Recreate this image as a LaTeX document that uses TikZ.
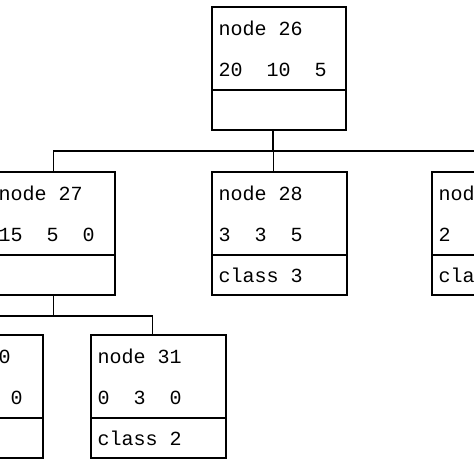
\documentclass[tikz,border=0pt]{standalone}
\usepackage{fontspec}
\newfontfamily\mono{Liberation Mono}
\usetikzlibrary{positioning}

\newcommand\colgap{\hspace*{0.6em}}

\tikzset{
  every node/.style={font=\mono\fontsize{11.4}{23.3}\selectfont, outer sep=0pt},
  upper/.style={draw, line width=1.1pt, anchor=north, align=left,
    inner xsep=0.13cm, inner ysep=0pt, minimum height=1.66cm, text width=#1},
  lower/.style={draw, line width=1.1pt, align=left,
    inner xsep=0.13cm, inner ysep=0pt, minimum height=0.8cm, text width=#1},
  link/.style={line width=1.1pt},
}

\begin{document}
\begin{tikzpicture}[x=0.02cm, y=-0.02cm]
    \useasboundingbox (0,0) rectangle (474,474);
    \clip (0,0) rectangle (474,474);
    \fill[white] (0,0) rectangle (474,474);

    % root
    \node[upper=2.42cm] (n26) at (279,7) {node\colgap 26\\20\colgap\colgap 10\colgap\colgap 5};
    \node[lower=2.42cm, below=0pt of n26] (n26c) {};

    % second level
    \node[upper=2.20cm] (n27) at (53.5,172) {node\colgap 27\\15\colgap\colgap 5\colgap\colgap 0};
    \node[lower=2.20cm, below=0pt of n27] (n27c) {};
    \node[upper=2.44cm] (n28) at (279.5,172) {node\colgap 28\\3\colgap\colgap 3\colgap\colgap 5};
    \node[lower=2.44cm, below=0pt of n28] (n28c) {class\colgap 3};
    \node[upper=2.42cm] (n29) at (499,172) {node\colgap 29\\2\colgap\colgap 2\colgap\colgap 0};
    \node[lower=2.42cm, below=0pt of n29] (n29c) {class\colgap 1};

    % third level
    \node[upper=2.20cm] (n30) at (-18.5,335) {node\colgap 30\\15\colgap\colgap 2\colgap\colgap 0};
    \node[lower=2.20cm, below=0pt of n30] (n30c) {};
    \node[upper=2.44cm] (n31) at (158.5,335) {node\colgap 31\\0\colgap\colgap 3\colgap\colgap 0};
    \node[lower=2.44cm, below=0pt of n31] (n31c) {class\colgap 2};

    % branches from node 26
    \draw[link] ([xshift=-0.12cm]n26c.south) -- ++(0,21) -| (n27.north);
    \draw[link] ([xshift=-0.12cm]n26c.south) -- ++(0,21) -| ([xshift=-0.12cm]n28.north);
    \draw[link] ([xshift=-0.12cm]n26c.south) -- ++(0,21) -| ([xshift=-0.12cm]n29.north);
    % branches from node 27
    \draw[link] (n27c.south) -- ++(0,21) -| ([xshift=-0.12cm]n30.north);
    \draw[link] (n27c.south) -- ++(0,21) -| ([xshift=-0.12cm]n31.north);
\end{tikzpicture}
\end{document}
